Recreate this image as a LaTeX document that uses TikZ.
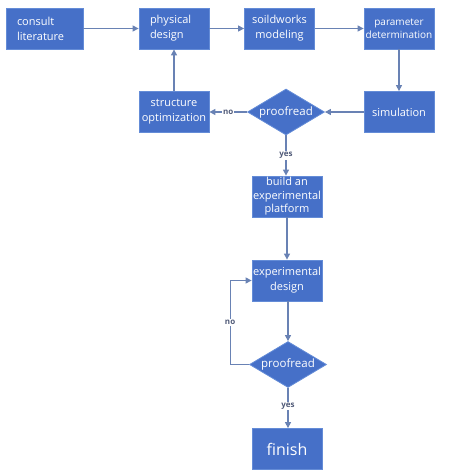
\documentclass[tikz,border=0pt]{standalone}
\usepackage{fontspec}
\setmainfont{Open Sans}
\usetikzlibrary{shapes.geometric,arrows.meta}
\definecolor{boxblue}{RGB}{70,112,200}
\definecolor{boxedge}{RGB}{100,140,215}
\definecolor{linecol}{RGB}{105,130,180}
\definecolor{labcol}{RGB}{80,90,120}
\tikzset{
  box/.style={draw=boxedge, line width=0.8pt, fill=boxblue, text=white, minimum width=70pt, minimum height=41pt, inner sep=1pt, font=\fontsize{11}{15}\selectfont, align=center},
  dia/.style={diamond, draw=boxedge, line width=0.8pt, fill=boxblue, text=white, aspect=1.65, inner sep=0pt, minimum width=77pt, minimum height=46pt, font=\fontsize{11.5}{14}\selectfont},
  conn/.style={draw=linecol, line width=1.2pt, -{Triangle[length=6pt,width=6pt]}},
  lab/.style={text=labcol, font=\fontsize{8}{10}\selectfont\bfseries, fill=white, inner sep=1pt}
}
\begin{document}
\begin{tikzpicture}[x=1pt,y=-1pt]
\useasboundingbox (0,0) rectangle (474,474);
\node[box, minimum width=77pt, align=left, text width=55pt] (cl) at (44.5,28.5) {consult\\literature};
\node[box, align=left, text width=48pt] (pd) at (174,28.5) {physical\\design};
\node[box] (sm) at (279.5,28.5) {soildworks\\modeling};
\node[box, font=\fontsize{10}{13}\selectfont] (par) at (399,28.5) {parameter\\determination};
\node[box] (sim) at (399,112) {simulation};
\node[dia] (pf1) at (286,112) {proofread};
\node[box] (so) at (174,112) {structure\\optimization};
\node[box, font=\fontsize{11}{13.5}\selectfont] (bp) at (287,196.5) {build an\\experimental\\platform};
\node[box] (ed) at (287,280.5) {experimental\\design};
\node[dia] (pf2) at (288,364.5) {proofread};
\node[box, font=\fontsize{16}{18}\selectfont] (fin) at (287,449) {finish};
\draw[conn] (cl) -- (pd);
\draw[conn] (pd) -- (sm);
\draw[conn] (sm) -- (par);
\draw[conn] (par) -- (sim);
\draw[conn] (sim) -- (pf1);
\draw[conn] (pf1) -- node[lab]{no} (so);
\draw[conn] (so) -- (pd);
\draw[conn] (pf1.south) -- node[lab, pos=0.5]{yes} (bp.north -| pf1.south);
\draw[conn] (bp) -- (ed);
\draw[conn] (ed.south -| pf2.north) -- (pf2.north);
\draw[conn] (pf2.west) -- ++(-19,0) coordinate (c1) -- node[lab, pos=0.5]{no} (c1 |- ed.west) -- (ed.west);
\draw[conn] (pf2.south) -- node[lab, pos=0.45]{yes} (fin.north -| pf2.south);
\end{tikzpicture}
\end{document}
